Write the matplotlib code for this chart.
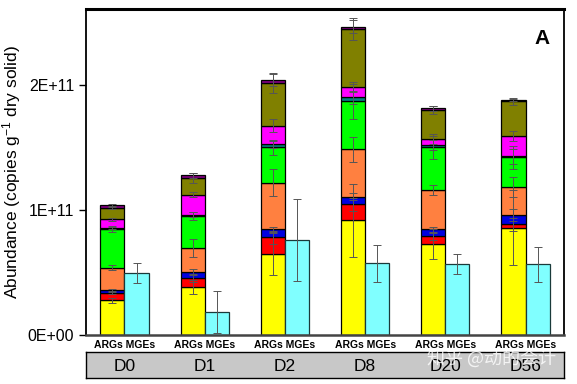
import matplotlib
matplotlib.use("Agg")
import matplotlib.pyplot as plt
import numpy as np

plt.rcParams["font.family"] = ["Liberation Sans", "DejaVu Sans"]
plt.rcParams["mathtext.fontset"] = "custom"
plt.rcParams["mathtext.rm"] = "Liberation Sans"
plt.rcParams["mathtext.it"] = "Liberation Sans:italic"

days = ["D0", "D1", "D2", "D8", "D20", "D56"]
bar_labels = ["ARGs", "MGEs"]
ytick_vals = [0, 1, 2]
ytick_labels = ["0E+00", "1E+11", "2E+11"]

# ARG layers (units of 1E+11), bottom to top
yellow  = [0.280, 0.387, 0.650, 0.917, 0.731, 0.859]
red     = [0.058, 0.066, 0.131, 0.128, 0.058, 0.026]
blue    = [0.022, 0.054, 0.067, 0.062, 0.056, 0.075]
orange  = [0.180, 0.189, 0.371, 0.378, 0.315, 0.221]
green   = [0.305, 0.256, 0.282, 0.384, 0.341, 0.240]
teal    = [0.015, 0.010, 0.024, 0.032, 0.020, 0.010]
magenta = [0.065, 0.160, 0.150, 0.080, 0.050, 0.164]
olive   = [0.095, 0.137, 0.338, 0.467, 0.229, 0.274]
purple  = [0.018, 0.018, 0.027, 0.019, 0.013, 0.011]

yellow_err  = [0.02, 0.055, 0.17, 0.29, 0.12, 0.30]
red_err     = [0.01, 0.03, 0.05, 0.05, 0.03, 0.05]
blue_err    = [0.01, 0.02, 0.02, 0.03, 0.02, 0.05]
orange_err  = [0.02, 0.07, 0.11, 0.10, 0.04, 0.08]
green_err   = [0.02, 0.03, 0.06, 0.14, 0.09, 0.09]
teal_err    = [0.01, 0.02, 0.03, 0.05, 0.04, 0.06]
magenta_err = [0.01, 0.02, 0.05, 0.04, 0.04, 0.04]
olive_err   = [0.01, 0.04, 0.08, 0.09, 0.03, 0.03]
purple_err  = [0.01, 0.02, 0.05, 0.05, 0.02, 0.01]

mges     = [0.496, 0.184, 0.760, 0.573, 0.565, 0.565]
mges_err = [0.080, 0.165, 0.330, 0.145, 0.080, 0.140]

layers = [yellow, red, blue, orange, green, teal, magenta, olive, purple]
layer_errs = [yellow_err, red_err, blue_err, orange_err, green_err, teal_err,
              magenta_err, olive_err, purple_err]
layer_colors = ["#FFFF00", "#FF0000", "#0000E0", "#FF8040", "#00FF00",
                "#008080", "#FF00FF", "#808000", "#800080"]

fig = plt.figure(figsize=(5.77, 3.84), dpi=100)
ax = fig.add_axes([86/577, 1-335/384, (564-86)/577, (335-9)/384])

x = np.arange(len(days))
w = 0.3
xa = x - w/2
xm = x + w/2

bottom = np.zeros(len(days))
for vals, errs, col in zip(layers, layer_errs, layer_colors):
    vals = np.array(vals)
    ax.bar(xa, vals, w, bottom=bottom, color=col, edgecolor="black", linewidth=0.9, zorder=2)
    top = bottom + vals
    ax.errorbar(xa, top, yerr=errs, fmt="none", ecolor="#555555", elinewidth=0.7,
                capsize=3, capthick=0.7, zorder=3)
    bottom = top

ax.bar(xm, mges, w, color="#80FFFF", edgecolor="#1a3a3a", linewidth=0.9, zorder=2)
ax.errorbar(xm, mges, yerr=mges_err, fmt="none", ecolor="#555555", elinewidth=0.7,
            capsize=3, capthick=0.7, zorder=3)

ax.set_xlim(-0.48, 5.48)
ax.set_ylim(0, 2.608)
ax.set_yticks(ytick_vals)
ax.set_yticklabels(ytick_labels, fontsize=11.5)
ax.set_xticks([])
ax.tick_params(axis="y", direction="out", length=5, width=1)
for s in ax.spines.values():
    s.set_linewidth(1.3)
ax.spines["top"].set_linewidth(2.2)
ax.spines["bottom"].set_color("#444444")
ax.spines["bottom"].set_linewidth(1.8)
ax.set_ylabel("Abundance (copies g$^{-1}$ dry solid)", fontsize=12.5)
ax.yaxis.set_label_coords((23-86)/478, 0.5)

ax.text(0.97, 0.94, "A", transform=ax.transAxes, fontsize=15, fontweight="bold",
        ha="right", va="top")

# sub labels under bars
for xi in x:
    ax.text(xi, -0.04, bar_labels[0] + " " + bar_labels[1], ha="center", va="top",
            fontsize=7.5, fontweight="bold", transform=ax.transData, clip_on=False)

# grey day box
bx = fig.add_axes([86/577, 1-378/384, (564-86)/577, (378-352)/384])
bx.set_facecolor("#C8C8C8")
bx.set_xlim(-0.48, 5.48)
bx.set_ylim(0, 1)
bx.set_xticks([])
bx.set_yticks([])
for s in bx.spines.values():
    s.set_linewidth(1.0)
for xi, d in zip(x, days):
    bx.text(xi, 0.45, d, ha="center", va="center", fontsize=12.5)

fig.text(0.74, 1-358/384, "知乎 @动的会计", fontsize=13, color="white", alpha=0.8,
         family=["Noto Sans CJK SC", "DejaVu Sans"], va="center")

fig.savefig("out.png", dpi=100)
